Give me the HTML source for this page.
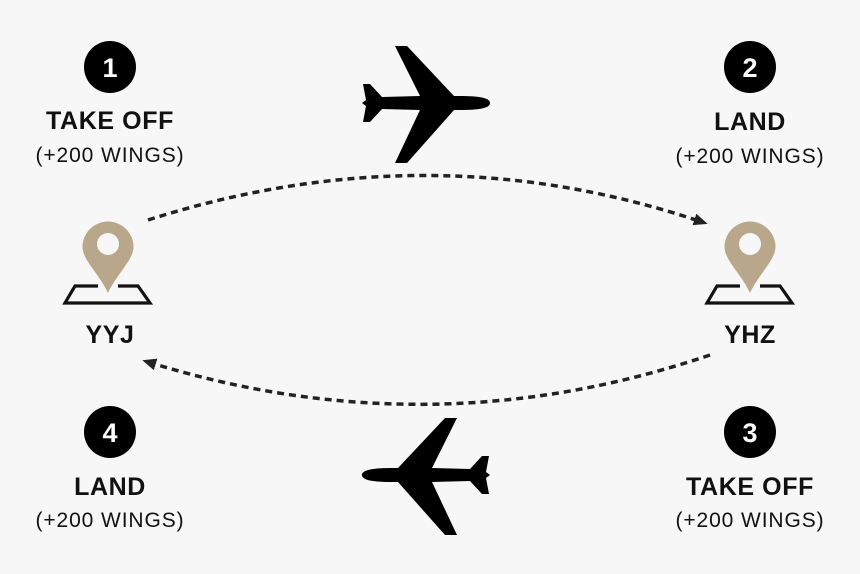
<!DOCTYPE html>
<html><head><style>
body{margin:0;background:#f7f7f7;}
svg{display:block}
text{font-family:"Liberation Sans",sans-serif;font-weight:bold;fill:#111;text-anchor:middle}
.s{font-weight:normal;font-size:21px;letter-spacing:0.9px}
.b{font-size:25px;letter-spacing:0.6px}
</style></head><body>
<svg width="860" height="574" viewBox="0 0 860 574">
<defs>
<g id="plane">
<path d="M128,57 C128,52 118,50 98,50 L92,50 L45,0 L33,0 L58,50 L20,51 L8,38 L1,38 L4,54 L0,57 L4,60 L1,76 L8,76 L20,63 L58,64 L33,117 L45,117 L92,64 L98,64 C118,64 128,62 128,57 Z" fill="#000"/>
</g>
<g id="pin">
<path d="M-25.5,27 A25.5,25.5 0 1 1 25.5,27 C25.5,40 8,55 0,73 C-8,55 -25.5,40 -25.5,27 Z" fill="#b8a78a"/>
<circle cx="0" cy="24" r="11" fill="#f7f7f7"/>
<path d="M-10,66 L-33,66 L-43,83 L42,83 L30,66 L10,66" fill="none" stroke="#111" stroke-width="3.2"/>
</g>
<marker id="ah" markerWidth="14" markerHeight="14" refX="8" refY="7" orient="auto" markerUnits="userSpaceOnUse">
<path d="M0,1 L14,7 L0,13 Z" fill="#222"/>
</marker>
</defs>

<circle cx="110" cy="67" r="26" fill="#000"/><text x="110" y="77" font-size="27" style="fill:#fff">1</text>
<circle cx="750" cy="67" r="26" fill="#000"/><text x="750" y="77" font-size="27" style="fill:#fff">2</text>
<circle cx="110" cy="432" r="26" fill="#000"/><text x="110" y="442" font-size="27" style="fill:#fff">4</text>
<circle cx="750" cy="432" r="26" fill="#000"/><text x="750" y="442" font-size="27" style="fill:#fff">3</text>

<text x="110" y="129" class="b">TAKE OFF</text>
<text x="110" y="162" class="s">(+200 WINGS)</text>
<text x="750" y="130" class="b">LAND</text>
<text x="750" y="163" class="s">(+200 WINGS)</text>
<text x="110" y="495" class="b">LAND</text>
<text x="110" y="527" class="s">(+200 WINGS)</text>
<text x="750" y="495" class="b">TAKE OFF</text>
<text x="750" y="527" class="s">(+200 WINGS)</text>

<use href="#plane" x="362" y="46"/>
<use href="#plane" transform="translate(490,418) scale(-1,1)"/>

<use href="#pin" x="108" y="220"/>
<use href="#pin" x="750" y="220"/>
<text x="110" y="343" class="b">YYJ</text>
<text x="750" y="343" class="b">YHZ</text>

<path d="M148,220 Q430,130 702,222" fill="none" stroke="#222" stroke-width="3.5" stroke-dasharray="7,5" marker-end="url(#ah)"/>
<path d="M710,355 Q430,450 148,362" fill="none" stroke="#222" stroke-width="3.5" stroke-dasharray="7,5" marker-end="url(#ah)"/>
</svg>
</body></html>
